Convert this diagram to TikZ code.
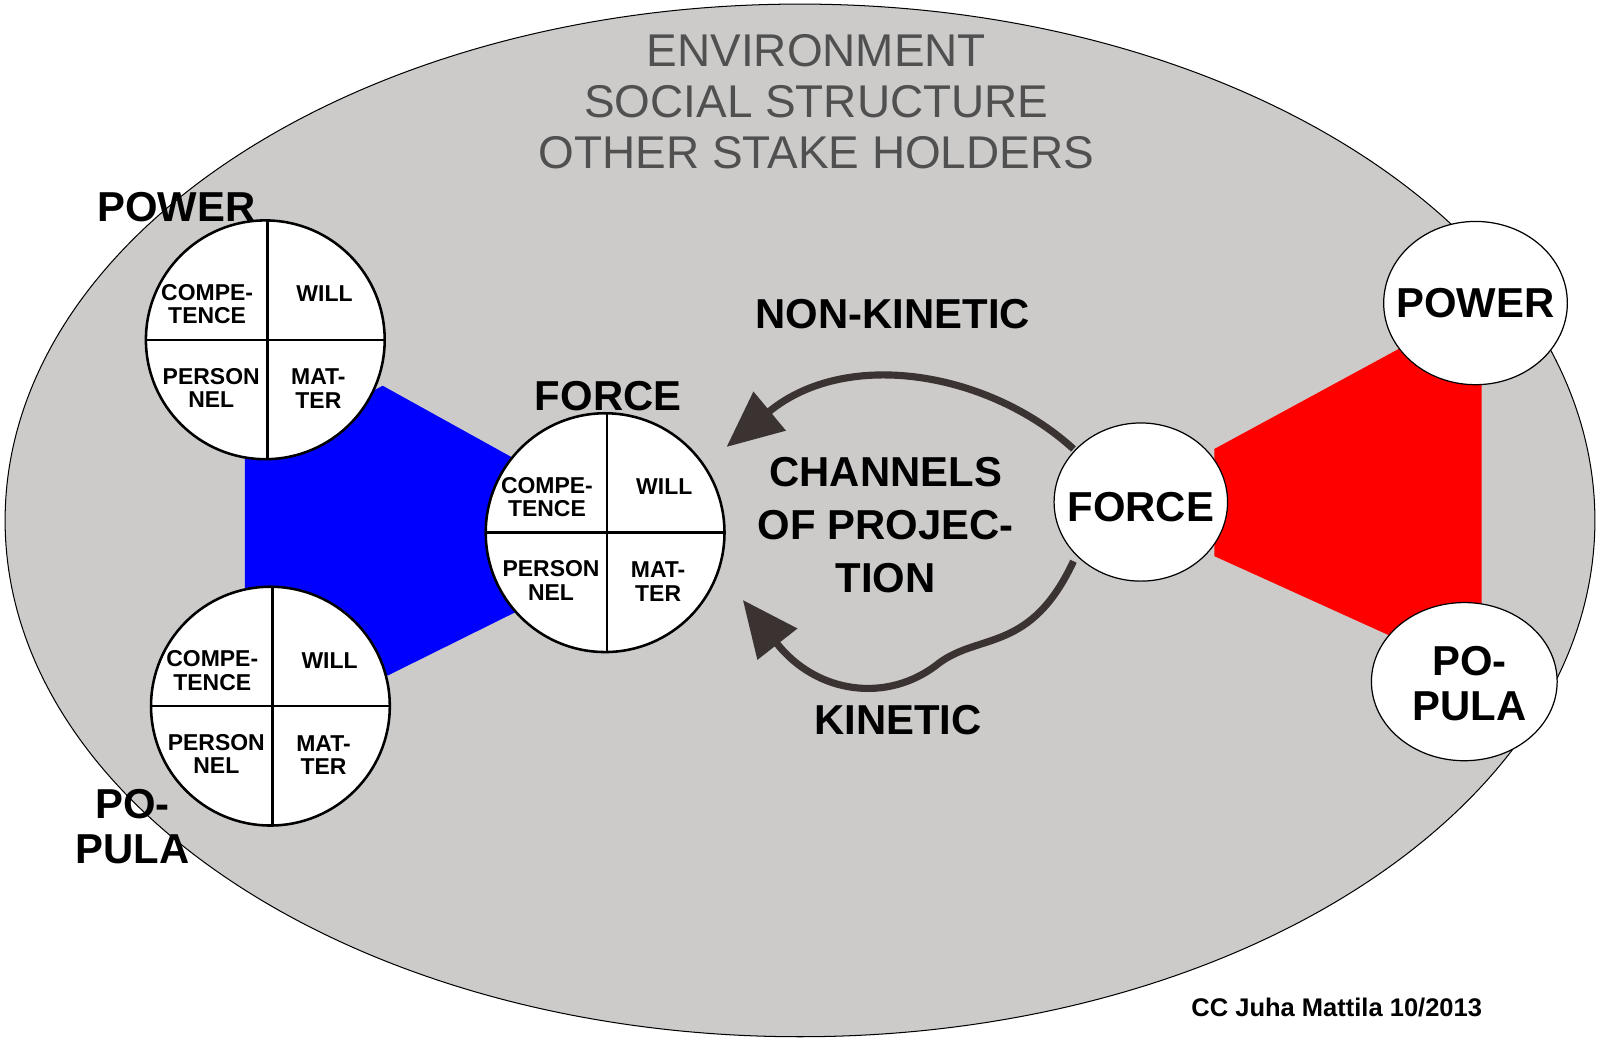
\documentclass[tikz,border=0pt]{standalone}
\usepackage{fontspec}
\setmainfont{Liberation Sans}
\usetikzlibrary{arrows.meta,shapes.geometric}
\definecolor{envgray}{HTML}{CDCBCA}
\definecolor{arrowc}{HTML}{3A3332}
\definecolor{titlec}{HTML}{505050}
\tikzset{
  quad/.style={font=\bfseries\fontsize{22.5}{23}\selectfont,align=center,inner sep=0},
  big/.style={font=\bfseries\fontsize{41}{44}\selectfont,align=center,inner sep=0},
  circ/.style={draw=black,line width=2.5pt,fill=white},
  chan/.style={draw=arrowc,line width=7pt,-{Triangle[length=55pt,width=48pt]}},
}
\newcommand{\quadcircle}[3]{%
  \draw[circ] (#1,#2) circle (117);
  \draw[line width=2.5pt] (#1+2,#2-117) -- (#1+2,#2+117);
  \draw[line width=2.5pt] (#1-117,#2) -- (#1+117,#2);
  \node[quad] (#3c) at (#1-57,#2-35) {COMPE-\\TENCE};
  \node[quad] (#3w) at (#1+58,#2-45) {WILL};
  \node[quad] (#3p) at (#1-53,#2+47) {PERSON\\NEL};
  \node[quad] (#3m) at (#1+52,#2+48) {MAT-\\TER};
}
\begin{document}
\begin{tikzpicture}[x=1pt,y=-1pt]
\useasboundingbox (0,0) rectangle (1568,1019);
\fill[white] (0,0) rectangle (1568,1019);
\draw[fill=envgray,line width=1pt] (784,510) ellipse (779 and 506);
\node[font=\fontsize{45}{50}\selectfont,text=titlec,align=center] (title) at (800,100) {ENVIRONMENT\\SOCIAL STRUCTURE\\OTHER STAKE HOLDERS};
% blue polygon
\fill[blue] (240,450) -- (375,378) -- (505,450) -- (505,600) -- (380,662) -- (240,578) -- cycle;
% red polygon
\fill[red] (1190,440) -- (1378,338) -- (1452,368) -- (1452,598) -- (1382,632) -- (1190,545) -- cycle;
\quadcircle{260}{333}{a}
\quadcircle{265}{692}{b}
\quadcircle{593}{522}{f}
\node[big] (powerL) at (173,203) {POWER};
\node[big] (populaL) at (130,810) {PO-\\PULA};
\node[big] (forceL) at (596,388) {FORCE};
% right ellipses
\node[draw,fill=white,line width=1.2pt,ellipse,minimum width=180,minimum height=160,inner sep=0] (powerR) at (1446,297) {};
\node[big] at (1446,297) {POWER};
\node[draw,fill=white,line width=1.2pt,ellipse,minimum width=170,minimum height=155,inner sep=0] (forceR) at (1118,492) {};
\node[big] at (1118,497) {FORCE};
\node[draw,fill=white,line width=1.2pt,ellipse,minimum width=182,minimum height=155,inner sep=0] (popR) at (1435,668) {};
\node[big] at (1440,670) {PO-\\PULA};
% channels
\coordinate (u0) at (1052,440);
\coordinate (l0) at (1052,550);
\draw[chan] (u0) .. controls (970,365) and (830,340) .. (712,438);
\draw[chan] (l0) .. controls (1010,640) and (960,620) .. (920,650) .. controls (870,690) and (800,680) .. (728,588);
\node[big] (nk) at (875,308) {NON-KINETIC};
\node[big] (k) at (880,706) {KINETIC};
\node[big,font=\bfseries\fontsize{41}{52}\selectfont] (ch) at (868,515) {CHANNELS\\OF PROJEC-\\TION};
\node[font=\bfseries\fontsize{25}{28}\selectfont] (cc) at (1310,987) {CC Juha Mattila 10/2013};
\end{tikzpicture}
\end{document}
